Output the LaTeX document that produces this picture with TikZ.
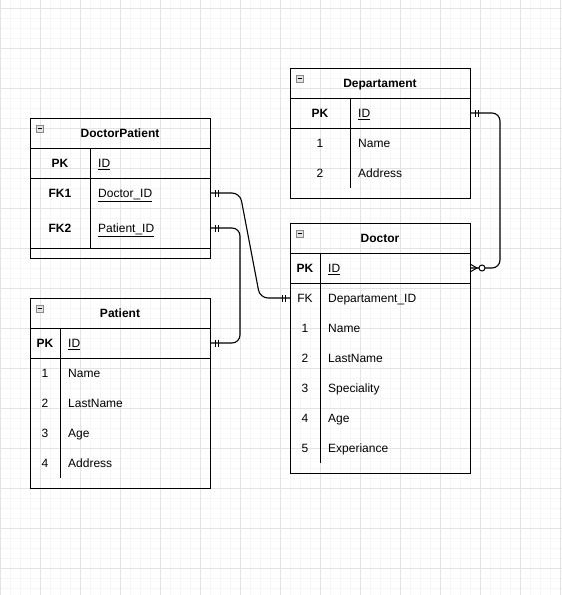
\documentclass[tikz,border=0pt]{standalone}
\usepackage{fontspec}
\setmainfont{Liberation Sans}
\usetikzlibrary{calc, decorations.markings}

\definecolor{gridminor}{HTML}{F6F6F6}
\definecolor{gridmajor}{HTML}{E3E3E3}
\definecolor{iconfill}{HTML}{E4E4E4}
\definecolor{iconline}{HTML}{8A8A8A}

\tikzset{
  tblline/.style={line width=1pt},
  tblbox/.style={draw, line width=1pt, minimum width=180pt, anchor=north west, inner sep=0pt, outer sep=0pt},
  hdrbox/.style={tblbox, minimum height=30pt, text height=8.6pt, text depth=0pt, font=\fontsize{12}{14}\selectfont\bfseries},
  rowbox/.style={tblbox, minimum height=30pt},
  keytxt/.style={inner sep=0pt, text height=8.6pt, text depth=0pt, font=\fontsize{12}{14}\selectfont},
  pktxt/.style={keytxt, font=\fontsize{12}{14}\selectfont\bfseries},
  fldtxt/.style={keytxt, anchor=west},
  minbox/.style={draw=iconline, fill=iconfill, line width=0.8pt, minimum size=7pt, inner sep=0pt, outer sep=0pt,
    path picture={\draw[black, line width=0.8pt] ($(path picture bounding box.west)+(1.5pt,0)$) -- ($(path picture bounding box.east)+(-1.5pt,0)$);}},
  relline/.style={line width=1.1pt, rounded corners=8pt},
  onestart/.style={postaction={decorate, decoration={markings,
    mark=at position 5pt with {\draw[line width=1pt, sharp corners] (0,-3.5pt) -- (0,3.5pt);},
    mark=at position 8pt with {\draw[line width=1pt, sharp corners] (0,-3.5pt) -- (0,3.5pt);}}}},
  oneend/.style={postaction={decorate, decoration={markings,
    mark=at position -5pt with {\draw[line width=1pt, sharp corners] (0,-3.5pt) -- (0,3.5pt);},
    mark=at position -8pt with {\draw[line width=1pt, sharp corners] (0,-3.5pt) -- (0,3.5pt);}}}},
  manyend/.style={postaction={decorate, decoration={markings,
    mark=at position -7pt with {\draw[line width=1pt, sharp corners] (7pt,4pt) -- (0,0) -- (7pt,-4pt);},
    mark=at position -12pt with {\draw[line width=1pt, fill=white] (0,0) circle (3pt);}}}}
}

\begin{document}
\begin{tikzpicture}[x=1pt, y=-1pt]
    \useasboundingbox (0,0) rectangle (562,595);
    \fill[white] (0,0) rectangle (562,595);

    % Grid
    \foreach \gx in {10,20,...,560} \draw[gridminor, line width=1pt] (\gx,0) -- (\gx,595);
    \foreach \gy in {8,18,...,588} \draw[gridminor, line width=1pt] (0,\gy) -- (562,\gy);
    \foreach \gx in {0,40,...,560} \draw[gridmajor, line width=1pt] (\gx,0) -- (\gx,595);
    \foreach \gy in {8,48,...,568} \draw[gridmajor, line width=1pt] (0,\gy) -- (562,\gy);

    % Departament
    \node[tblbox, minimum height=130pt] (dep) at (290,68) {};
    \node[hdrbox] (dep-hdr) at (290,68) {Departament};
    \node[minbox] (dep-min) at (299.5,78.5) {};
    \node[rowbox] (dep-id) at (290,98) {};
    \draw[tblline] (350,98) -- (350,188);
    \node[pktxt] (dep-pk) at (320,113) {PK};
    \node[fldtxt] (dep-idt) at (358,113) {\underline{ID}};
    \node[keytxt] (dep-k1) at (320,143) {1};
    \node[fldtxt] (dep-name) at (358,143) {Name};
    \node[keytxt] (dep-k2) at (320,173) {2};
    \node[fldtxt] (dep-addr) at (358,173) {Address};

    % DoctorPatient
    \node[tblbox, minimum height=140pt] (dp) at (30,118) {};
    \node[hdrbox] (dp-hdr) at (30,118) {DoctorPatient};
    \node[minbox] (dp-min) at (39.5,128.5) {};
    \node[rowbox] (dp-id) at (30,148) {};
    \node[rowbox, draw=none] (dp-doc) at (30,178) {};
    \node[rowbox, draw=none, minimum height=40pt] (dp-pat) at (30,208) {};
    \draw[tblline] (dp-pat.south west) -- (dp-pat.south east);
    \draw[tblline] (90,148) -- (90,248);
    \node[pktxt] (dp-pk) at (60,163) {PK};
    \node[fldtxt] (dp-idt) at (98,163) {\underline{ID}};
    \node[pktxt] (dp-fk1) at (60,193) {FK1};
    \node[fldtxt] (dp-doct) at (98,193) {\underline{Doctor\_ID}};
    \node[pktxt] (dp-fk2) at (60,228) {FK2};
    \node[fldtxt] (dp-patt) at (98,228) {\underline{Patient\_ID}};

    % Patient
    \node[tblbox, minimum height=190pt] (pat) at (30,298) {};
    \node[hdrbox] (pat-hdr) at (30,298) {Patient};
    \node[minbox] (pat-min) at (39.5,308.5) {};
    \node[rowbox] (pat-id) at (30,328) {};
    \draw[tblline] (60,328) -- (60,478);
    \node[pktxt] (pat-pk) at (45,343) {PK};
    \node[fldtxt] (pat-idt) at (68,343) {\underline{ID}};
    \node[keytxt] (pat-k1) at (45,373) {1};
    \node[fldtxt] (pat-name) at (68,373) {Name};
    \node[keytxt] (pat-k2) at (45,403) {2};
    \node[fldtxt] (pat-last) at (68,403) {LastName};
    \node[keytxt] (pat-k3) at (45,433) {3};
    \node[fldtxt] (pat-age) at (68,433) {Age};
    \node[keytxt] (pat-k4) at (45,463) {4};
    \node[fldtxt] (pat-addr) at (68,463) {Address};

    % Doctor
    \node[tblbox, minimum height=250pt] (doc) at (290,223) {};
    \node[hdrbox] (doc-hdr) at (290,223) {Doctor};
    \node[minbox] (doc-min) at (299.5,233.5) {};
    \node[rowbox] (doc-id) at (290,253) {};
    \node[rowbox, draw=none] (doc-fk) at (290,283) {};
    \draw[tblline] (320,253) -- (320,463);
    \node[pktxt] (doc-pk) at (305,268) {PK};
    \node[fldtxt] (doc-idt) at (328,268) {\underline{ID}};
    \node[keytxt] (doc-fkt) at (305,298) {FK};
    \node[fldtxt] (doc-dept) at (328,298) {Departament\_ID};
    \node[keytxt] (doc-k1) at (305,328) {1};
    \node[fldtxt] (doc-name) at (328,328) {Name};
    \node[keytxt] (doc-k2) at (305,358) {2};
    \node[fldtxt] (doc-last) at (328,358) {LastName};
    \node[keytxt] (doc-k3) at (305,388) {3};
    \node[fldtxt] (doc-spec) at (328,388) {Speciality};
    \node[keytxt] (doc-k4) at (305,418) {4};
    \node[fldtxt] (doc-age) at (328,418) {Age};
    \node[keytxt] (doc-k5) at (305,448) {5};
    \node[fldtxt] (doc-exp) at (328,448) {Experiance};

    % Relations
    \draw[relline, onestart, oneend] (dp-doc.east) -- ++(30,0) -- ($(doc-fk.west)+(-30,0)$) -- (doc-fk.west);
    \draw[relline, onestart, oneend] (dp-pat.east) -- ++(30,0) |- (pat-id.east);
    \draw[relline, onestart, manyend] (dep-id.east) -- ++(30,0) |- (doc-id.east);
\end{tikzpicture}
\end{document}
